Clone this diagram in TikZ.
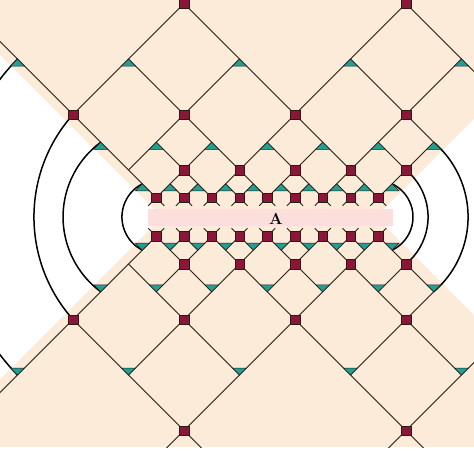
\documentclass[tikz,border=0pt]{standalone}
\usepackage{fontspec}
\usetikzlibrary{calc}
\definecolor{peach}{RGB}{253,235,217}
\definecolor{maroonsq}{RGB}{140,22,58}
\definecolor{tealtri}{RGB}{34,158,146}
\definecolor{pinkA}{RGB}{252,222,220}
\definecolor{edgecol}{RGB}{40,28,20}
\begin{document}
\begin{tikzpicture}[x=1pt,y=-1pt,
  latt/.style={draw=edgecol, line width=0.85pt},
  geod/.style={draw=black, line width=1.5pt},
  redsq/.style={rectangle, fill=maroonsq, draw=edgecol, line width=0.5pt, minimum size=9.5pt, inner sep=0pt},
  tri/.style={fill=tealtri, draw=edgecol, line width=0.5pt},
  regionbox/.style={fill=pinkA, inner sep=0pt, minimum width=245pt, minimum height=16.5pt},
]
\useasboundingbox (0,0) rectangle (474,474);
\begin{scope}
\clip (0,0) rectangle (474,447);
\fill[peach] (0,0) rectangle (474,447);
\fill[white] (-5,50) -- (162,217) -- (-5,384) -- cycle;
\fill[white] (479,114) -- (376,217) -- (479,320) -- cycle;
\node[regionbox] (regionA) at (270.5,217.25) {};

% coordinates
\foreach \s/\g in {u/-1,d/1}{
  \foreach \i in {0,...,8} \coordinate (\s L0-\i) at ({156.25+\i*27.75},{217+(\g)*19.25});
  \foreach \i in {0,...,9} \coordinate (\s T0-\i) at ({142.375+\i*27.75},{217+(\g)*33.125});
  \foreach \i in {0,...,5} \coordinate (\s L1-\i) at ({128.5+\i*55.5},{217+(\g)*47});
  \foreach \i in {0,...,6} \coordinate (\s T1-\i) at ({100.75+\i*55.5},{217+(\g)*74.75});
  \foreach \i in {0,...,4} \coordinate (\s L2-\i) at ({73+\i*111},{217+(\g)*102.5});
  \foreach \i in {0,...,4} \coordinate (\s T2-\i) at ({17.5+\i*111},{217+(\g)*158});
  \foreach \i in {0,...,2} \coordinate (\s L3-\i) at ({-38+\i*222},{217+(\g)*213.5});
  \foreach \i in {1,2} {
    \coordinate (\s X3a-\i) at ($(\s L3-\i)+(-40,{40*(\g)})$);
    \coordinate (\s X3b-\i) at ($(\s L3-\i)+(40,{40*(\g)})$);
  }
  \foreach \i in {0,...,8} {
    \coordinate (\s Sa-\i) at ($(\s L0-\i)+(-8,{-8*(\g)})$);
    \coordinate (\s Sb-\i) at ($(\s L0-\i)+(8,{-8*(\g)})$);
  }
}

% lattice edges
\foreach \s in {u,d}{
  \foreach \i in {0,...,8} {
    \draw[latt] (\s L0-\i) -- (\s Sa-\i);
    \draw[latt] (\s L0-\i) -- (\s Sb-\i);
  }
  \foreach \i in {0,...,9} {
    \pgfmathtruncatemacro{\p}{ceil(\i/2)}
    \draw[latt] (\s T0-\i) -- (\s L1-\p);
    \ifnum\i>0 \pgfmathtruncatemacro{\q}{\i-1}\draw[latt] (\s T0-\i) -- (\s L0-\q);\fi
    \ifnum\i<9 \draw[latt] (\s T0-\i) -- (\s L0-\i);\fi
  }
  \foreach \i in {0,...,6} {
    \pgfmathtruncatemacro{\p}{ceil(\i/2)}
    \draw[latt] (\s T1-\i) -- (\s L2-\p);
    \ifnum\i>0 \pgfmathtruncatemacro{\q}{\i-1}\draw[latt] (\s T1-\i) -- (\s L1-\q);\fi
    \ifnum\i<6 \draw[latt] (\s T1-\i) -- (\s L1-\i);\fi
  }
  \foreach \i in {0,...,4} {
    \pgfmathtruncatemacro{\p}{ceil(\i/2)}
    \draw[latt] (\s T2-\i) -- (\s L3-\p);
    \ifnum\i>0 \pgfmathtruncatemacro{\q}{\i-1}\draw[latt] (\s T2-\i) -- (\s L2-\q);\fi
    \draw[latt] (\s T2-\i) -- (\s L2-\i);
  }
  \foreach \i in {1,2} {
    \draw[latt] (\s L3-\i) -- (\s X3a-\i);
    \draw[latt] (\s L3-\i) -- (\s X3b-\i);
  }
}

% geodesic arcs
\draw[geod] (uT2-0) arc[start angle=224.2, end angle=135.8, radius=226.65];
\draw[geod] (uL2-0) arc[start angle=221.71, end angle=138.29, radius=154.05];
\draw[geod] (uT1-0) arc[start angle=233.53, end angle=126.47, radius=92.95];
\draw[geod] (uT0-0) arc[start angle=243.35, end angle=116.65, radius=37.06];
\draw[geod] (uT0-9) arc[start angle=-64.46, end angle=64.46, radius=36.71];
\draw[geod] (uL1-5) arc[start angle=-50.31, end angle=50.31, radius=61.07];
\draw[geod] (uT1-6) arc[start angle=-49.32, end angle=49.32, radius=98.57];

% markers
\foreach \s/\g in {u/-1,d/1}{
  \foreach \i in {0,...,9} \filldraw[tri] (\s T0-\i) -- ++(-7,{-7*(\g)}) -- ++(14,0) -- cycle;
  \foreach \i in {0,...,6} \filldraw[tri] (\s T1-\i) -- ++(-7,{-7*(\g)}) -- ++(14,0) -- cycle;
  \foreach \i in {0,...,4} \filldraw[tri] (\s T2-\i) -- ++(-7,{-7*(\g)}) -- ++(14,0) -- cycle;
  \foreach \i in {0,...,8} \node[redsq] (\s L0m-\i) at (\s L0-\i) {};
  \foreach \i in {1,...,5} \node[redsq] (\s L1m-\i) at (\s L1-\i) {};
  \foreach \i in {0,...,3} \node[redsq] (\s L2m-\i) at (\s L2-\i) {};
  \foreach \i in {1,2} \node[redsq] (\s L3m-\i) at (\s L3-\i) {};
}

\node[font=\fontsize{16}{18}\selectfont\bfseries, inner sep=0pt] (labA) at (276,218.5) {A};
\end{scope}
\end{tikzpicture}
\end{document}
